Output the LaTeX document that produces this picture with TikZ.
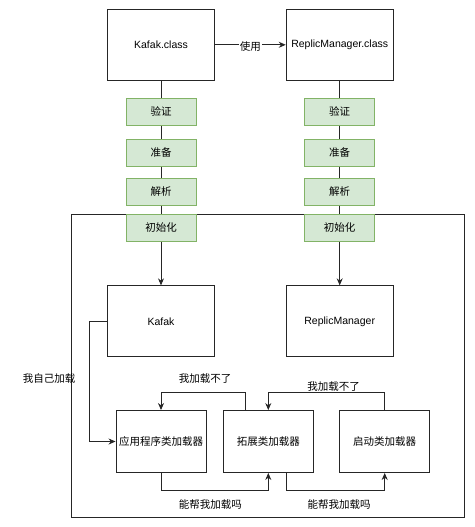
\documentclass[tikz,border=0pt]{standalone}
\usepackage{fontspec}
\setmainfont{Liberation Sans}
\newfontfamily\cjk{Noto Sans CJK SC}
\usetikzlibrary{arrows.meta}
\definecolor{gfill}{HTML}{D5E8D4}
\definecolor{gline}{HTML}{82B366}
\definecolor{ink}{HTML}{262626}
\begin{document}
\begin{tikzpicture}[x=1pt,y=-1pt,line width=0.9pt,
  box/.style={draw=ink,fill=white,minimum width=107pt,minimum height=71pt,inner sep=0pt,font=\fontsize{10.5}{12}\selectfont},
  stage/.style={draw=gline,fill=gfill,minimum width=70pt,minimum height=27pt,inner sep=0pt,font=\cjk\fontsize{10.5}{12}\selectfont},
  loader/.style={draw=ink,fill=white,minimum width=90pt,minimum height=62pt,inner sep=0pt,font=\cjk\fontsize{10.5}{12}\selectfont},
  lbl/.style={inner sep=1pt,font=\cjk\fontsize{10.5}{12}\selectfont},
  conn/.style={draw=ink},
  arr/.style={draw=ink,-{Stealth[length=7pt,width=6pt]}}]
\useasboundingbox (0,0) rectangle (474,527);
% frame
\node[draw=ink,minimum width=392.6pt,minimum height=303pt,inner sep=0pt] (frame) at (268,365.8) {};
% top classes
\node[box] (kc) at (161,44.8) {Kafak.class};
\node[box] (rc) at (339.7,44.8) {ReplicManager.class};
% stages left
\node[stage] (l1) at (161,111.8) {验证};
\node[stage] (l2) at (161,152.7) {准备};
\node[stage] (l3) at (161,191.7) {解析};
\node[stage] (l4) at (161,227.7) {初始化};
% stages right
\node[stage] (r1) at (339.7,111.8) {验证};
\node[stage] (r2) at (339.7,152.7) {准备};
\node[stage] (r3) at (339.7,191.7) {解析};
\node[stage] (r4) at (339.7,227.7) {初始化};
% objects
\node[box] (k) at (161,321.3) {Kafak};
\node[box] (rm) at (339.7,321.3) {ReplicManager};
% loaders
\node[loader] (a) at (161,441.5) {应用程序类加载器};
\node[loader] (b) at (268.3,441.5) {拓展类加载器};
\node[loader] (c) at (384.7,441.5) {启动类加载器};
% connectors
\draw[arr] (kc) -- (rc) node[midway,lbl,fill=white,yshift=-2pt] {使用};
\draw[conn] (kc) -- (l1);
\draw[conn] (l1) -- (l2);
\draw[conn] (l2) -- (l3);
\draw[conn] (l3) -- (l4);
\draw[arr] (l4) -- (k);
\draw[conn] (rc) -- (r1);
\draw[conn] (r1) -- (r2);
\draw[conn] (r2) -- (r3);
\draw[conn] (r3) -- (r4);
\draw[arr] (r4) -- (rm);
% self load
\coordinate (c1) at (89.3,321.3);
\draw[arr] (k.west) -- (c1) |- (a.west);
\node[lbl] (s1) at (49,379) {我自己加载};
% delegation up
\coordinate (t1) at (245.7,392.7);
\draw[arr] (b.north -| t1) -- (t1) -| (a.north);
\node[lbl] (s2) at (205,379) {我加载不了};
\coordinate (t2) at (384.7,392.7);
\draw[arr] (c.north) -- (t2) -| (b.north);
\node[lbl] (s3) at (333.5,386.5) {我加载不了};
% delegation down
\coordinate (u1) at (161,490.7);
\draw[arr] (a.south) -- (u1) -| (b.south);
\node[lbl] (s4) at (210.3,504.3) {能帮我加载吗};
\coordinate (u2) at (286,490.7);
\draw[arr] (b.south -| u2) -- (u2) -| (c.south);
\node[lbl] (s5) at (339,504.3) {能帮我加载吗};
\end{tikzpicture}
\end{document}
